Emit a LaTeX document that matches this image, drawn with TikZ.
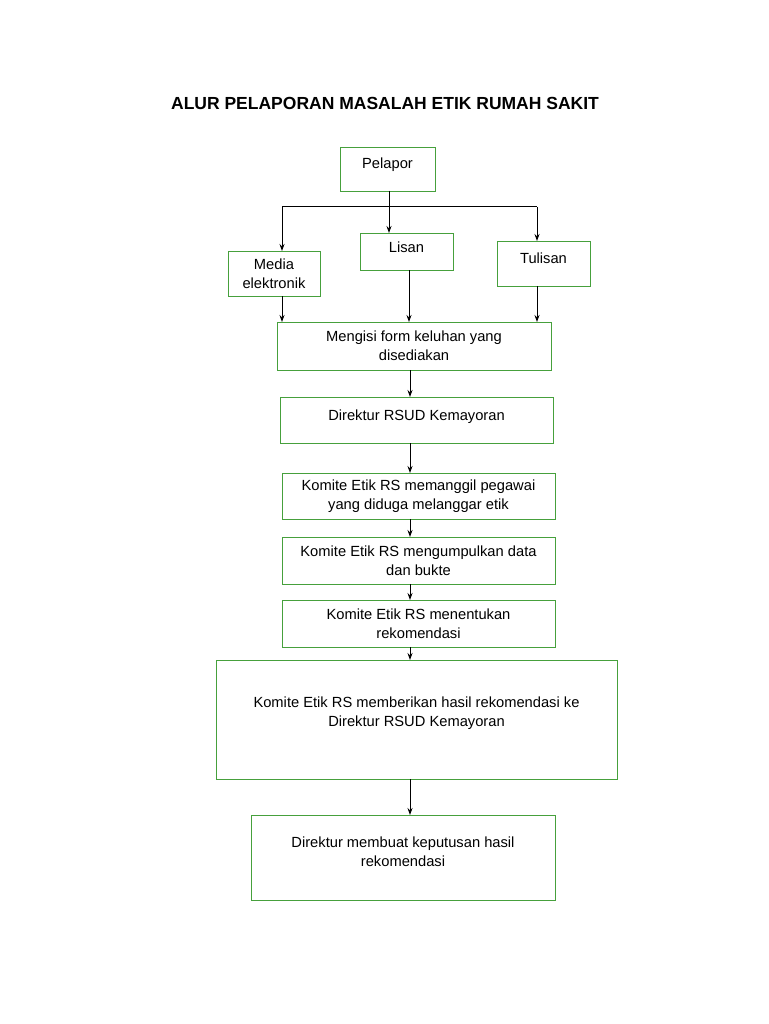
\documentclass[tikz,border=0pt]{standalone}
\usepackage{fontspec}
\setmainfont{Liberation Sans}
\usetikzlibrary{arrows.meta}
\definecolor{bx}{RGB}{70,160,60}
\begin{document}
\begin{tikzpicture}[x=1pt,y=-1pt,
  box/.style={draw=bx,line width=0.8pt,align=center,inner sep=0pt,font=\fontsize{14.7}{19}\selectfont},
  arr/.style={-{Stealth[length=7pt,width=5pt]},line width=1pt}]
\useasboundingbox (0,0) rectangle (768,1024);
\node[font=\bfseries\fontsize{17.5}{20}\selectfont] (title) at (385,103) {ALUR PELAPORAN MASALAH ETIK RUMAH SAKIT};
\node[box,minimum width=95pt,minimum height=44pt] (pel) at (387.5,169) {Pelapor\\[-7pt]};
\node[box,minimum width=92pt,minimum height=45pt] (med) at (274,273.5) {Media\\elektronik};
\node[box,minimum width=93pt,minimum height=37pt] (lis) at (406.5,251.5) {Lisan\\[-11pt]};
\node[box,minimum width=93pt,minimum height=45pt] (tul) at (543.5,263.5) {Tulisan\\[-8pt]};
\node[box,minimum width=274pt,minimum height=48pt] (isi) at (414,346) {Mengisi form keluhan yang\\disediakan};
\node[box,minimum width=273pt,minimum height=46pt] (dir) at (416.5,420) {Direktur RSUD Kemayoran\\[-9pt]};
\node[box,minimum width=273pt,minimum height=46pt] (k1) at (418.5,496) {Komite Etik RS memanggil pegawai\\yang diduga melanggar etik};
\node[box,minimum width=273pt,minimum height=47pt] (k2) at (418.5,560.5) {Komite Etik RS mengumpulkan data\\dan bukte};
\node[box,minimum width=273pt,minimum height=47pt] (k3) at (418.5,623.5) {Komite Etik RS menentukan\\rekomendasi};
\node[box,minimum width=401pt,minimum height=119pt] (k4) at (416.5,719.5) {Komite Etik RS memberikan hasil rekomendasi ke\\Direktur RSUD Kemayoran\\[-4pt]};
\node[box,minimum width=304pt,minimum height=85pt] (dm) at (403,857.5) {Direktur membuat keputusan hasil\\rekomendasi\\[-8pt]};
\draw[arr] (389,191) -- (389,233);
\draw[line width=1pt] (282,207) -- (537,207);
\draw[arr] (282,207) -- (282,251);
\draw[arr] (537,207) -- (537,241);
\draw[arr] (282,296) -- (282,322);
\draw[arr] (409,270) -- (409,322);
\draw[arr] (537,286) -- (537,322);
\draw[arr] (410,370) -- (410,397);
\draw[arr] (410,443) -- (410,473);
\draw[arr] (410,519) -- (410,537);
\draw[arr] (410,584) -- (410,600);
\draw[arr] (410,647) -- (410,660);
\draw[arr] (410,779) -- (410,815);
\end{tikzpicture}
\end{document}
